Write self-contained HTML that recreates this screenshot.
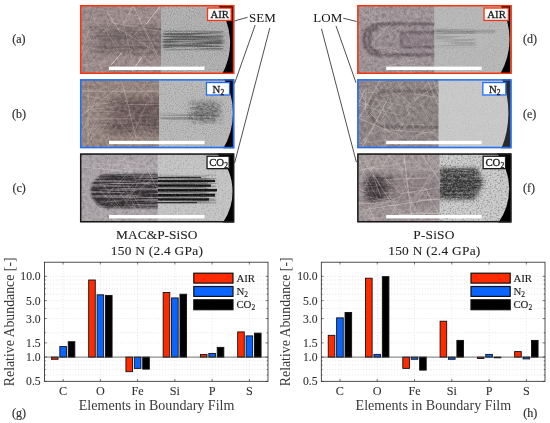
<!DOCTYPE html>
<html><head><meta charset="utf-8"><title>Figure</title>
<style>
html,body{margin:0;padding:0;background:#fff;}
svg{display:block;font-family:"Liberation Serif", serif;}
text{stroke-width:0.1px;}
.tk{font-size:12.2px;fill:#333;stroke:#333;}
.xl{font-size:14px;fill:#3a3a3a;}
.yl{font-size:14.5px;fill:#3a3a3a;}
.lg{font-size:10.8px;fill:#222;stroke:#222;stroke-width:0.12px;}
.tt{font-size:13.4px;fill:#222;stroke:#222;}
.pl{font-size:12px;fill:#333;stroke:#333;stroke-width:0.2px;}
.lb{font-size:10.8px;fill:#222;stroke:#222;stroke-width:0.3px;}
.big{font-size:13px;fill:#111;}
</style></head><body>
<svg width="550" height="423" viewBox="0 0 550 423">
<defs>
<filter id="nf" x="0" y="0" width="100%" height="100%" color-interpolation-filters="sRGB">
<feTurbulence type="fractalNoise" baseFrequency="0.95" numOctaves="2" seed="3" result="n"/>
<feColorMatrix in="n" type="matrix" values="0 0 0 0 0  0 0 0 0 0  0 0 0 0 0  -1.6 0 0 0 0.8" result="d"/>
<feColorMatrix in="n" type="matrix" values="0 0 0 0 1  0 0 0 0 1  0 0 0 0 1  1.6 0 0 0 -0.8" result="l"/>
<feMerge><feMergeNode in="d"/><feMergeNode in="l"/></feMerge>
</filter>
<filter id="nf2" x="0" y="0" width="100%" height="100%" color-interpolation-filters="sRGB">
<feTurbulence type="fractalNoise" baseFrequency="0.95" numOctaves="2" seed="8" result="n"/>
<feColorMatrix in="n" type="matrix" values="0 0 0 0 0  0 0 0 0 0  0 0 0 0 0  -2.4 0 0 0 1.2" result="d"/>
<feColorMatrix in="n" type="matrix" values="0 0 0 0 1  0 0 0 0 1  0 0 0 0 1  2.4 0 0 0 -1.2" result="l"/>
<feMerge><feMergeNode in="d"/><feMergeNode in="l"/></feMerge>
</filter>
<filter id="nc" x="0" y="0" width="100%" height="100%" color-interpolation-filters="sRGB">
<feTurbulence type="fractalNoise" baseFrequency="0.28" numOctaves="3" seed="21" result="n"/>
<feColorMatrix in="n" type="matrix" values="0 0 0 0 0  0 0 0 0 0  0 0 0 0 0  -1.5 0 0 0 0.75" result="d"/>
<feColorMatrix in="n" type="matrix" values="0 0 0 0 1  0 0 0 0 1  0 0 0 0 1  1.5 0 0 0 -0.75" result="l"/>
<feMerge><feMergeNode in="d"/><feMergeNode in="l"/></feMerge>
</filter>
<filter id="nm" x="0" y="0" width="100%" height="100%" color-interpolation-filters="sRGB">
<feTurbulence type="fractalNoise" baseFrequency="0.6" numOctaves="2" seed="17" result="n"/>
<feColorMatrix in="n" type="matrix" values="0 0 0 0 0  0 0 0 0 0  0 0 0 0 0  -2.2 0 0 0 1.1" result="d"/>
<feColorMatrix in="n" type="matrix" values="0 0 0 0 1  0 0 0 0 1  0 0 0 0 1  2.2 0 0 0 -1.1" result="l"/>
<feMerge><feMergeNode in="d"/><feMergeNode in="l"/></feMerge>
</filter>
<filter id="st1" x="-15%" y="-30%" width="130%" height="160%" color-interpolation-filters="sRGB">
<feTurbulence type="fractalNoise" baseFrequency="0.02 0.55" numOctaves="2" seed="5" result="n"/>
<feColorMatrix in="n" type="matrix" values="0 0 0 0 0  0 0 0 0 0  0 0 0 0 0  5 0 0 0 -1.9" result="s"/>
<feGaussianBlur in="SourceAlpha" stdDeviation="1.5" result="m"/>
<feComposite in="s" in2="m" operator="in"/>
</filter>
<filter id="st2" x="-15%" y="-30%" width="130%" height="160%" color-interpolation-filters="sRGB">
<feTurbulence type="fractalNoise" baseFrequency="0.015 0.7" numOctaves="2" seed="9" result="n"/>
<feColorMatrix in="n" type="matrix" values="0 0 0 0 0  0 0 0 0 0  0 0 0 0 0  7 0 0 0 -2.6" result="s"/>
<feGaussianBlur in="SourceAlpha" stdDeviation="1.0" result="m"/>
<feComposite in="s" in2="m" operator="in"/>
</filter>
<filter id="st3" x="-15%" y="-30%" width="130%" height="160%" color-interpolation-filters="sRGB">
<feTurbulence type="fractalNoise" baseFrequency="0.03 0.45" numOctaves="2" seed="14" result="n"/>
<feColorMatrix in="n" type="matrix" values="0 0 0 0 0  0 0 0 0 0  0 0 0 0 0  4 0 0 0 -1.6" result="s"/>
<feGaussianBlur in="SourceAlpha" stdDeviation="2.0" result="m"/>
<feComposite in="s" in2="m" operator="in"/>
</filter>
<filter id="bl1" x="-15%" y="-30%" width="130%" height="160%" color-interpolation-filters="sRGB">
<feTurbulence type="fractalNoise" baseFrequency="0.25 0.4" numOctaves="3" seed="4" result="n"/>
<feColorMatrix in="n" type="matrix" values="0 0 0 0 0  0 0 0 0 0  0 0 0 0 0  4 0 0 0 -1.5" result="s"/>
<feGaussianBlur in="SourceAlpha" stdDeviation="2.5" result="m"/>
<feComposite in="s" in2="m" operator="in"/>
</filter>
<filter id="b1"><feGaussianBlur stdDeviation="1.2"/></filter>
<filter id="b07"><feGaussianBlur stdDeviation="0.7"/></filter>
<filter id="b2"><feGaussianBlur stdDeviation="2.5"/></filter>
<filter id="b4"><feGaussianBlur stdDeviation="4"/></filter>
</defs>
<rect width="550" height="423" fill="#fff"/>

<clipPath id="c0"><rect x="80" y="5" width="154.2" height="69.0"/></clipPath>
<clipPath id="l0"><rect x="80" y="5" width="81.30000000000001" height="69.0"/></clipPath>
<clipPath id="s0"><rect x="161.3" y="5" width="72.89999999999998" height="69.0"/></clipPath>
<rect x="80" y="5" width="154.2" height="69.0" fill="#b0b0b0"/>
<g clip-path="url(#l0)">
<rect x="80" y="5" width="81.30000000000001" height="69.0" fill="#9b8b89"/>
<rect x="98" y="27" width="70" height="26" fill="#4a3a44" opacity="0.3" filter="url(#b4)"/><rect x="90" y="25" width="75" height="30" filter="url(#st3)" opacity="0.13"/><path d="M145.8 24.6L159.8 6.4M110.8 65.2L122 52.6M132 71L142 57" stroke="#f4e8e2" stroke-width="1" opacity="0.7"/>
<rect x="80" y="5" width="154.2" height="69.0" filter="url(#nc)" opacity="0.3"/>
<rect x="80" y="5" width="154.2" height="69.0" filter="url(#nf)" opacity="0.18"/>
<g stroke="#f0e4e0" opacity="0.45" fill="none"><path d="M62.1 68.1L119.7 58.9" stroke-width="0.35" opacity="0.42"/><path d="M129.8 19.6L166.1 50.2" stroke-width="0.35" opacity="0.59"/><path d="M74.2 70.5L89.4 29.2" stroke-width="0.68" opacity="0.96"/><path d="M118.0 -0.9L131.9 58.6" stroke-width="0.58" opacity="0.79"/><path d="M78.6 59.7L111.6 87.2" stroke-width="0.76" opacity="0.51"/><path d="M96.8 59.5L109.4 84.9" stroke-width="0.70" opacity="0.65"/><path d="M75.1 64.7L113.1 21.1" stroke-width="0.56" opacity="0.64"/><path d="M95.6 -0.3L144.0 14.3" stroke-width="0.38" opacity="0.54"/><path d="M60.9 19.8L101.1 17.8" stroke-width="0.43" opacity="0.73"/><path d="M148.5 -14.3L167.1 25.1" stroke-width="0.58" opacity="0.66"/><path d="M65.7 65.0L103.5 65.1" stroke-width="0.30" opacity="0.72"/><path d="M130.3 -0.2L157.5 55.9" stroke-width="0.70" opacity="0.88"/><path d="M126.3 42.5L166.4 2.7" stroke-width="0.44" opacity="0.56"/><path d="M119.7 21.0L169.9 14.5" stroke-width="0.45" opacity="0.82"/><path d="M88.5 7.9L152.2 17.9" stroke-width="0.56" opacity="0.53"/><path d="M114.2 48.5L144.3 74.2" stroke-width="0.55" opacity="0.66"/><path d="M136.1 86.7L159.2 58.1" stroke-width="0.59" opacity="0.59"/><path d="M123.5 23.1L139.1 -5.0" stroke-width="0.77" opacity="0.85"/><path d="M107.3 12.1L120.4 32.7" stroke-width="0.73" opacity="0.98"/><path d="M116.9 27.7L157.5 52.5" stroke-width="0.55" opacity="0.96"/><path d="M104.9 28.7L118.5 50.9" stroke-width="0.46" opacity="0.99"/><path d="M111.5 22.7L175.8 34.1" stroke-width="0.72" opacity="0.72"/><path d="M131.2 31.9L153.6 51.5" stroke-width="0.47" opacity="0.70"/><path d="M93.6 19.7L107.9 37.0" stroke-width="0.58" opacity="0.46"/><path d="M74.7 14.7L91.6 5.4" stroke-width="0.58" opacity="0.74"/><path d="M143.3 55.7L171.5 4.7" stroke-width="0.71" opacity="0.41"/><path d="M126.3 20.1L142.7 2.6" stroke-width="0.53" opacity="0.81"/><path d="M70.6 59.7L115.3 66.9" stroke-width="0.66" opacity="0.59"/><path d="M77.5 22.5L116.3 31.3" stroke-width="0.46" opacity="0.44"/><path d="M130.3 62.6L178.2 81.2" stroke-width="0.43" opacity="0.72"/></g>
</g>
<g clip-path="url(#s0)">
<rect x="161.3" y="5" width="72.89999999999998" height="69.0" fill="#b0b0b0"/>
<rect x="163" y="31.5" width="60" height="18" filter="url(#st1)" opacity="0.42"/><rect x="164" y="33" width="58" height="14" fill="#333" opacity="0.22" filter="url(#b2)"/>
<rect x="80" y="5" width="154.2" height="69.0" filter="url(#nf2)" opacity="0.2"/>
<path d="M236.2 3H216.62A65.8 65.8 0 0 1 221.17 76.0H236.2Z" fill="#000"/>
</g>
<rect x="109" y="66.6" width="95.5" height="3.4" fill="#fff"/>
<rect x="80.7" y="5.7" width="152.79999999999998" height="67.6" fill="none" stroke="#fb340c" stroke-width="1.5"/>
<rect x="207.55" y="8.05" width="23.60" height="12.4" fill="#fff" stroke="#fb340c" stroke-width="1.3"/>
<text x="219.75" y="18.05" text-anchor="middle" class="lb">AIR</text>
<clipPath id="c1"><rect x="80" y="79.2" width="154.2" height="69.0"/></clipPath>
<clipPath id="l1"><rect x="80" y="79.2" width="79.19999999999999" height="69.0"/></clipPath>
<clipPath id="s1"><rect x="159.2" y="79.2" width="75.0" height="69.0"/></clipPath>
<rect x="80" y="79.2" width="154.2" height="69.0" fill="#b8b8b8"/>
<g clip-path="url(#l1)">
<rect x="80" y="79.2" width="79.19999999999999" height="69.0" fill="#96857f"/>
<rect x="110" y="97.2" width="60" height="36" fill="#3c2c32" opacity="0.35" filter="url(#b4)"/><rect x="100" y="99.2" width="62" height="34" filter="url(#st3)" opacity="0.15"/><path d="M88 81.2V145.2M82 91.2H158" stroke="#e6d6d2" stroke-width="0.7" opacity="0.5"/>
<rect x="80" y="79.2" width="154.2" height="69.0" filter="url(#nc)" opacity="0.3"/>
<rect x="80" y="79.2" width="154.2" height="69.0" filter="url(#nf)" opacity="0.18"/>
<g stroke="#f0e4e0" opacity="0.45" fill="none"><path d="M89.0 129.4L106.9 161.8" stroke-width="0.32" opacity="0.69"/><path d="M89.1 118.9L132.7 118.6" stroke-width="0.54" opacity="0.95"/><path d="M127.5 148.6L147.5 101.3" stroke-width="0.47" opacity="0.81"/><path d="M104.1 138.3L134.7 109.8" stroke-width="0.40" opacity="0.97"/><path d="M118.0 120.6L133.7 138.4" stroke-width="0.60" opacity="0.72"/><path d="M82.9 102.4L126.8 105.3" stroke-width="0.55" opacity="0.44"/><path d="M138.1 116.0L165.0 112.4" stroke-width="0.32" opacity="0.55"/><path d="M96.6 138.9L110.6 116.9" stroke-width="0.68" opacity="0.58"/><path d="M65.7 149.1L96.4 114.8" stroke-width="0.50" opacity="0.45"/><path d="M70.6 103.0L100.4 154.4" stroke-width="0.55" opacity="0.82"/><path d="M140.5 84.6L174.8 82.5" stroke-width="0.78" opacity="0.40"/><path d="M136.8 85.6L155.5 101.8" stroke-width="0.78" opacity="0.66"/><path d="M77.1 144.5L96.1 97.5" stroke-width="0.66" opacity="0.71"/><path d="M75.3 159.1L99.0 127.5" stroke-width="0.35" opacity="0.84"/><path d="M122.7 104.9L149.5 137.9" stroke-width="0.46" opacity="0.63"/><path d="M109.6 100.0L132.7 85.5" stroke-width="0.45" opacity="0.73"/><path d="M128.3 104.4L186.4 104.9" stroke-width="0.45" opacity="0.91"/><path d="M71.2 123.5L119.8 86.0" stroke-width="0.64" opacity="0.96"/><path d="M128.5 147.6L146.9 124.1" stroke-width="0.33" opacity="0.84"/><path d="M86.4 109.9L116.5 106.4" stroke-width="0.74" opacity="0.65"/><path d="M100.5 130.2L116.8 161.4" stroke-width="0.69" opacity="0.88"/><path d="M107.9 116.8L113.5 132.0" stroke-width="0.40" opacity="0.56"/><path d="M56.3 109.8L118.8 112.0" stroke-width="0.63" opacity="0.59"/><path d="M69.2 119.0L96.9 166.3" stroke-width="0.60" opacity="0.59"/><path d="M84.4 107.8L122.5 100.0" stroke-width="0.38" opacity="0.94"/><path d="M64.3 135.5L119.2 123.3" stroke-width="0.35" opacity="0.43"/><path d="M120.2 120.2L127.8 139.8" stroke-width="0.66" opacity="0.45"/><path d="M87.1 139.3L94.7 122.6" stroke-width="0.74" opacity="0.75"/><path d="M121.1 77.4L136.2 138.3" stroke-width="0.67" opacity="0.87"/><path d="M65.6 92.3L124.1 102.8" stroke-width="0.58" opacity="0.63"/></g>
</g>
<g clip-path="url(#s1)">
<rect x="159.2" y="79.2" width="75.0" height="69.0" fill="#b8b8b8"/>
<ellipse cx="206" cy="111.2" rx="14" ry="10" fill="#222" opacity="0.3" filter="url(#b4)"/><rect x="188" y="101.2" width="34" height="22" filter="url(#bl1)" opacity="0.22"/><rect x="160" y="114.2" width="55" height="6" filter="url(#st1)" opacity="0.25"/>
<rect x="80" y="79.2" width="154.2" height="69.0" filter="url(#nf2)" opacity="0.2"/>
<path d="M236.2 77.2H223.10A69.7 69.7 0 0 1 222.24 150.2H236.2Z" fill="#000"/>
</g>
<rect x="109" y="140.8" width="95.5" height="3.4" fill="#fff"/>
<rect x="80.7" y="79.9" width="152.79999999999998" height="67.6" fill="none" stroke="#1f6ffb" stroke-width="1.5"/>
<rect x="206.45" y="82.55" width="23.10" height="12.4" fill="#fff" stroke="#1f6ffb" stroke-width="1.3"/>
<text x="218.40" y="92.55" text-anchor="middle" class="lb">N<tspan dy="2" font-size="7.5">2</tspan></text>
<clipPath id="c2"><rect x="80" y="153.4" width="154.2" height="69.0"/></clipPath>
<clipPath id="l2"><rect x="80" y="153.4" width="77.80000000000001" height="69.0"/></clipPath>
<clipPath id="s2"><rect x="157.8" y="153.4" width="76.39999999999998" height="69.0"/></clipPath>
<rect x="80" y="153.4" width="154.2" height="69.0" fill="#c4c4c4"/>
<g clip-path="url(#l2)">
<rect x="80" y="153.4" width="77.80000000000001" height="69.0" fill="#aaa3a8"/>
<path d="M160 173.9H108a17 17 0 0 0 0 34H160Z" fill="#2c2228" opacity="0.42" filter="url(#b1)"/><path d="M160 173.9H108a17 17 0 0 0 0 34H160Z" filter="url(#st2)" opacity="0.55"/><path d="M110 183.4H158M100 189.4H158M110 197.4H158" stroke="#b9a8b0" stroke-width="0.9" opacity="0.5"/>
<rect x="80" y="153.4" width="154.2" height="69.0" filter="url(#nc)" opacity="0.3"/>
<rect x="80" y="153.4" width="154.2" height="69.0" filter="url(#nf)" opacity="0.18"/>
<g stroke="#f0e4e0" opacity="0.5" fill="none"><path d="M133.0 132.3L177.2 176.1" stroke-width="0.80" opacity="0.54"/><path d="M77.2 206.4L135.4 198.1" stroke-width="0.41" opacity="0.95"/><path d="M100.7 173.6L138.9 165.1" stroke-width="0.46" opacity="0.82"/><path d="M106.6 199.4L123.5 214.6" stroke-width="0.39" opacity="0.96"/><path d="M124.9 219.1L142.5 186.9" stroke-width="0.34" opacity="0.84"/><path d="M141.4 183.2L162.0 164.4" stroke-width="0.46" opacity="0.89"/><path d="M84.7 220.4L124.8 211.3" stroke-width="0.36" opacity="0.70"/><path d="M84.5 233.8L134.1 188.9" stroke-width="0.38" opacity="0.70"/><path d="M103.9 217.8L131.0 223.8" stroke-width="0.68" opacity="0.67"/><path d="M127.7 185.4L144.5 215.0" stroke-width="0.61" opacity="0.82"/><path d="M103.8 197.7L148.9 152.1" stroke-width="0.76" opacity="0.77"/><path d="M135.6 132.0L165.8 175.1" stroke-width="0.46" opacity="0.59"/><path d="M109.6 231.8L144.5 171.9" stroke-width="0.66" opacity="0.64"/><path d="M126.3 204.5L169.8 220.7" stroke-width="0.36" opacity="0.96"/><path d="M113.9 139.8L136.5 180.8" stroke-width="0.58" opacity="0.85"/><path d="M85.1 167.3L132.2 171.7" stroke-width="0.72" opacity="0.81"/><path d="M140.8 182.5L162.3 187.8" stroke-width="0.44" opacity="1.00"/><path d="M72.2 191.6L97.2 241.7" stroke-width="0.34" opacity="0.93"/><path d="M95.6 163.4L133.5 165.7" stroke-width="0.51" opacity="0.93"/><path d="M97.7 176.9L120.3 208.4" stroke-width="0.51" opacity="0.95"/><path d="M149.6 164.9L162.4 176.0" stroke-width="0.59" opacity="0.40"/><path d="M111.0 204.3L154.5 163.9" stroke-width="0.50" opacity="0.78"/><path d="M137.2 143.1L140.9 186.6" stroke-width="0.41" opacity="0.53"/><path d="M126.9 195.9L151.5 180.7" stroke-width="0.77" opacity="0.56"/><path d="M100.7 176.4L123.7 172.3" stroke-width="0.63" opacity="0.54"/><path d="M78.8 223.4L104.5 214.6" stroke-width="0.44" opacity="0.64"/><path d="M122.6 183.7L137.8 212.7" stroke-width="0.49" opacity="0.99"/><path d="M92.7 183.2L126.1 215.4" stroke-width="0.71" opacity="0.51"/><path d="M103.6 149.4L138.8 199.6" stroke-width="0.54" opacity="0.62"/><path d="M123.9 193.6L172.3 202.6" stroke-width="0.71" opacity="0.43"/><path d="M123.3 168.6L156.1 168.9" stroke-width="0.51" opacity="0.73"/><path d="M117.8 189.8L140.0 220.6" stroke-width="0.33" opacity="0.95"/><path d="M97.5 156.3L130.4 167.4" stroke-width="0.40" opacity="0.61"/><path d="M135.8 177.5L151.8 141.8" stroke-width="0.31" opacity="0.40"/><path d="M93.3 198.5L135.3 239.5" stroke-width="0.41" opacity="0.83"/><path d="M146.0 166.2L162.1 199.4" stroke-width="0.77" opacity="0.74"/><path d="M144.8 185.6L164.1 164.8" stroke-width="0.52" opacity="0.85"/><path d="M93.6 218.5L128.2 175.5" stroke-width="0.61" opacity="0.50"/><path d="M132.0 221.6L170.3 215.3" stroke-width="0.37" opacity="0.69"/><path d="M115.2 159.5L153.1 166.1" stroke-width="0.54" opacity="0.76"/></g>
</g>
<g clip-path="url(#s2)">
<rect x="157.8" y="153.4" width="76.39999999999998" height="69.0" fill="#c4c4c4"/>
<rect x="158" y="177.4" width="50" height="25" fill="#222" opacity="0.22" filter="url(#b1)"/><rect x="157" y="176.9" width="44" height="1.0" fill="#0c0c0c" opacity="0.9"/><rect x="157" y="179.9" width="58" height="2.2" fill="#0c0c0c" opacity="0.9"/><rect x="157" y="184.4" width="54" height="2.4" fill="#0c0c0c" opacity="0.9"/><rect x="157" y="188.9" width="60" height="2.6" fill="#0c0c0c" opacity="0.9"/><rect x="157" y="193.9" width="58" height="2.6" fill="#0c0c0c" opacity="0.9"/><rect x="157" y="198.4" width="52" height="2.2" fill="#0c0c0c" opacity="0.9"/><rect x="157" y="202.2" width="40" height="1.0" fill="#0c0c0c" opacity="0.9"/><rect x="158" y="175.4" width="58" height="28" filter="url(#st2)" opacity="0.25"/>
<rect x="80" y="153.4" width="154.2" height="69.0" filter="url(#nm)" opacity="0.18"/>
<path d="M236.2 151.4H214.74A54.4 54.4 0 0 1 221.67 224.4H236.2Z" fill="#000"/>
</g>
<rect x="109" y="215.0" width="95.5" height="3.4" fill="#fff"/>
<rect x="80.7" y="154.1" width="152.79999999999998" height="67.6" fill="none" stroke="#1a1a1a" stroke-width="1.5"/>
<rect x="207.05" y="156.25" width="22.10" height="12.4" fill="#fff" stroke="#1a1a1a" stroke-width="1.3"/>
<text x="218.50" y="166.25" text-anchor="middle" class="lb">CO<tspan dy="2" font-size="7.5">2</tspan></text>
<clipPath id="c3"><rect x="357.2" y="5" width="154.2" height="69.0"/></clipPath>
<clipPath id="l3"><rect x="357.2" y="5" width="77.30000000000001" height="69.0"/></clipPath>
<clipPath id="s3"><rect x="434.5" y="5" width="76.89999999999998" height="69.0"/></clipPath>
<rect x="357.2" y="5" width="154.2" height="69.0" fill="#b8b8b8"/>
<g clip-path="url(#l3)">
<rect x="357.2" y="5" width="77.30000000000001" height="69.0" fill="#9e9397"/>
<path d="M437.2 24H379.2a15.5 15.5 0 0 0 0 31H437.2" fill="#54424c" fill-opacity="0.15" stroke="#3a2a34" stroke-width="2.6" opacity="0.62" filter="url(#b1)"/><path d="M437.2 32H401.2v15H437.2" fill="#54424c" fill-opacity="0.3" stroke="#3e2e38" stroke-width="1.8" opacity="0.55" filter="url(#b1)"/><path d="M379.2 26a14 14 0 0 0 0 27" fill="none" stroke="#2e2028" stroke-width="3" opacity="0.45" filter="url(#b1)"/>
<rect x="357.2" y="5" width="154.2" height="69.0" filter="url(#nc)" opacity="0.3"/>
<rect x="357.2" y="5" width="154.2" height="69.0" filter="url(#nf)" opacity="0.18"/>
<g stroke="#f0e4e0" opacity="0.4" fill="none"><path d="M402.4 19.5L460.2 9.9" stroke-width="0.34" opacity="0.56"/><path d="M351.0 93.5L371.1 51.2" stroke-width="0.31" opacity="0.56"/><path d="M379.2 42.0L400.4 -7.1" stroke-width="0.61" opacity="0.56"/><path d="M405.4 24.5L456.9 28.6" stroke-width="0.39" opacity="0.43"/><path d="M389.2 -5.9L407.4 20.3" stroke-width="0.49" opacity="0.75"/><path d="M374.3 54.2L386.1 38.0" stroke-width="0.52" opacity="0.46"/><path d="M416.9 41.1L418.3 -23.1" stroke-width="0.39" opacity="0.73"/><path d="M366.4 9.4L402.0 45.9" stroke-width="0.35" opacity="0.52"/><path d="M348.9 -0.4L384.3 30.7" stroke-width="0.80" opacity="0.85"/><path d="M360.7 50.2L426.8 60.1" stroke-width="0.31" opacity="0.70"/><path d="M402.2 37.2L410.3 19.8" stroke-width="0.40" opacity="0.81"/><path d="M416.8 24.4L451.2 59.3" stroke-width="0.50" opacity="0.47"/><path d="M418.5 31.6L436.3 50.8" stroke-width="0.54" opacity="0.63"/><path d="M396.7 82.0L433.7 27.1" stroke-width="0.58" opacity="0.51"/><path d="M426.1 41.1L436.9 12.9" stroke-width="0.68" opacity="0.53"/><path d="M388.7 37.4L451.2 35.1" stroke-width="0.71" opacity="0.41"/><path d="M371.7 46.1L401.4 52.3" stroke-width="0.72" opacity="0.56"/><path d="M362.1 10.5L392.4 72.0" stroke-width="0.40" opacity="0.64"/><path d="M407.6 85.5L442.0 29.6" stroke-width="0.47" opacity="0.43"/><path d="M369.9 56.9L425.6 70.4" stroke-width="0.31" opacity="0.97"/><path d="M377.8 68.2L442.7 53.2" stroke-width="0.75" opacity="0.65"/><path d="M394.8 28.5L415.8 83.6" stroke-width="0.63" opacity="0.59"/><path d="M368.4 22.6L389.5 20.3" stroke-width="0.75" opacity="0.89"/><path d="M414.4 -1.6L442.1 33.6" stroke-width="0.74" opacity="0.98"/><path d="M370.2 -15.4L402.2 31.0" stroke-width="0.58" opacity="0.67"/><path d="M372.4 30.0L381.8 13.7" stroke-width="0.47" opacity="0.63"/><path d="M413.4 35.6L442.4 54.8" stroke-width="0.44" opacity="0.41"/><path d="M339.0 19.3L388.1 12.0" stroke-width="0.31" opacity="0.95"/><path d="M385.1 35.6L419.8 16.2" stroke-width="0.66" opacity="0.87"/><path d="M400.5 25.2L417.1 47.0" stroke-width="0.56" opacity="0.81"/><path d="M367.1 49.2L435.9 43.9" stroke-width="0.36" opacity="0.85"/><path d="M375.8 38.0L392.4 23.6" stroke-width="0.64" opacity="0.83"/><path d="M374.3 48.9L376.2 -20.9" stroke-width="0.47" opacity="0.69"/><path d="M352.3 66.3L387.4 26.2" stroke-width="0.63" opacity="0.81"/><path d="M382.0 45.2L415.6 9.8" stroke-width="0.48" opacity="0.41"/><path d="M390.7 83.3L405.6 59.9" stroke-width="0.70" opacity="0.64"/><path d="M341.1 54.6L379.9 2.8" stroke-width="0.64" opacity="0.72"/><path d="M346.5 91.7L392.3 49.8" stroke-width="0.49" opacity="0.57"/><path d="M393.9 47.6L415.3 71.9" stroke-width="0.72" opacity="0.67"/><path d="M354.2 4.2L385.8 8.5" stroke-width="0.63" opacity="0.84"/></g>
</g>
<g clip-path="url(#s3)">
<rect x="434.5" y="5" width="76.89999999999998" height="69.0" fill="#b8b8b8"/>
<rect x="435.2" y="30" width="60" height="3" fill="#444" opacity="0.3" filter="url(#b1)"/><rect x="435.2" y="29" width="40" height="18" filter="url(#st1)" opacity="0.12"/>
<rect x="357.2" y="5" width="154.2" height="69.0" filter="url(#nf)" opacity="0.18"/>
<path d="M513.4 3H499.25A69.4 69.4 0 0 1 499.00 76.0H513.4Z" fill="#000"/>
</g>
<rect x="386.2" y="66.6" width="95.5" height="3.4" fill="#fff"/>
<rect x="357.9" y="5.7" width="152.79999999999998" height="67.6" fill="none" stroke="#fb340c" stroke-width="1.5"/>
<rect x="484.05" y="8.05" width="24.30" height="12.4" fill="#fff" stroke="#fb340c" stroke-width="1.3"/>
<text x="496.60" y="18.05" text-anchor="middle" class="lb">AIR</text>
<clipPath id="c4"><rect x="357.2" y="79.2" width="154.2" height="69.0"/></clipPath>
<clipPath id="l4"><rect x="357.2" y="79.2" width="81.5" height="69.0"/></clipPath>
<clipPath id="s4"><rect x="438.7" y="79.2" width="72.69999999999999" height="69.0"/></clipPath>
<rect x="357.2" y="79.2" width="154.2" height="69.0" fill="#c9c9c9"/>
<g clip-path="url(#l4)">
<rect x="357.2" y="79.2" width="81.5" height="69.0" fill="#8f8485"/>
<path d="M439.2 91.2H387.2a16 16 0 0 0 0 36H439.2" fill="#4a3a40" fill-opacity="0.15" stroke="#32262c" stroke-width="2.2" opacity="0.4" filter="url(#b1)"/>
<rect x="357.2" y="79.2" width="154.2" height="69.0" filter="url(#nc)" opacity="0.3"/>
<rect x="357.2" y="79.2" width="154.2" height="69.0" filter="url(#nf)" opacity="0.18"/>
<g stroke="#f0e4e0" opacity="0.55" fill="none"><path d="M394.8 106.8L408.9 99.3" stroke-width="0.32" opacity="0.91"/><path d="M399.0 118.4L421.7 150.8" stroke-width="0.39" opacity="0.66"/><path d="M369.6 112.3L411.3 155.4" stroke-width="0.78" opacity="0.68"/><path d="M355.5 124.5L382.3 76.2" stroke-width="0.74" opacity="0.91"/><path d="M359.9 118.9L397.5 134.5" stroke-width="0.77" opacity="0.80"/><path d="M374.1 115.3L392.7 163.8" stroke-width="0.31" opacity="0.85"/><path d="M373.4 129.8L406.0 85.7" stroke-width="0.68" opacity="0.58"/><path d="M347.8 97.2L367.8 147.8" stroke-width="0.48" opacity="0.44"/><path d="M402.0 69.3L431.5 124.6" stroke-width="0.40" opacity="0.78"/><path d="M412.6 93.8L444.6 98.2" stroke-width="0.64" opacity="0.87"/><path d="M354.1 96.8L369.4 106.1" stroke-width="0.51" opacity="0.87"/><path d="M352.7 116.6L366.1 86.6" stroke-width="0.77" opacity="0.95"/><path d="M381.4 96.6L405.2 92.5" stroke-width="0.32" opacity="0.78"/><path d="M347.7 118.4L375.3 115.7" stroke-width="0.41" opacity="0.51"/><path d="M419.1 74.7L434.7 106.4" stroke-width="0.71" opacity="0.54"/><path d="M362.3 147.7L387.9 98.6" stroke-width="0.68" opacity="0.99"/><path d="M359.3 89.2L366.9 104.7" stroke-width="0.80" opacity="0.90"/><path d="M391.0 130.1L450.2 134.2" stroke-width="0.67" opacity="0.62"/><path d="M395.0 89.6L426.1 119.4" stroke-width="0.52" opacity="0.59"/><path d="M365.6 118.8L383.4 99.8" stroke-width="0.77" opacity="0.67"/><path d="M369.6 88.9L402.9 139.5" stroke-width="0.66" opacity="0.55"/><path d="M399.0 84.9L417.7 138.9" stroke-width="0.31" opacity="0.95"/><path d="M399.1 130.1L409.7 111.8" stroke-width="0.61" opacity="0.58"/><path d="M358.4 145.4L384.0 121.2" stroke-width="0.38" opacity="0.43"/><path d="M373.5 83.7L406.7 131.6" stroke-width="0.60" opacity="0.80"/><path d="M371.7 98.8L394.1 73.8" stroke-width="0.44" opacity="0.85"/><path d="M396.6 96.7L430.1 140.2" stroke-width="0.40" opacity="0.60"/><path d="M381.6 128.5L391.5 140.1" stroke-width="0.77" opacity="0.62"/><path d="M372.5 74.7L424.1 119.1" stroke-width="0.36" opacity="0.97"/><path d="M404.9 106.8L440.9 82.6" stroke-width="0.66" opacity="0.70"/><path d="M414.3 99.8L416.9 71.2" stroke-width="0.71" opacity="0.42"/><path d="M423.2 131.9L442.8 110.2" stroke-width="0.46" opacity="0.41"/><path d="M335.8 134.7L392.7 105.1" stroke-width="0.42" opacity="0.49"/><path d="M355.7 80.4L385.4 81.4" stroke-width="0.46" opacity="0.61"/><path d="M357.2 137.2L412.6 157.5" stroke-width="0.67" opacity="0.50"/><path d="M396.7 125.4L423.2 160.0" stroke-width="0.66" opacity="0.49"/><path d="M353.3 99.1L390.6 117.1" stroke-width="0.64" opacity="0.63"/><path d="M357.0 96.0L417.1 108.4" stroke-width="0.58" opacity="0.67"/><path d="M408.3 112.1L457.9 155.0" stroke-width="0.52" opacity="0.78"/><path d="M390.8 90.1L399.2 103.9" stroke-width="0.69" opacity="0.43"/><path d="M418.9 59.8L439.1 107.5" stroke-width="0.76" opacity="0.80"/><path d="M335.2 147.5L386.2 139.8" stroke-width="0.62" opacity="0.58"/><path d="M417.6 86.7L454.5 77.9" stroke-width="0.32" opacity="0.90"/><path d="M361.7 93.2L377.4 92.3" stroke-width="0.56" opacity="0.82"/><path d="M399.2 124.0L463.5 126.1" stroke-width="0.40" opacity="0.95"/><path d="M392.4 141.4L409.8 121.3" stroke-width="0.33" opacity="0.72"/><path d="M385.8 92.6L416.8 73.5" stroke-width="0.34" opacity="0.95"/><path d="M415.1 135.4L447.6 127.4" stroke-width="0.73" opacity="0.61"/><path d="M422.4 132.8L446.7 159.0" stroke-width="0.33" opacity="0.70"/><path d="M398.1 132.7L406.9 109.7" stroke-width="0.43" opacity="0.58"/><path d="M431.8 123.6L437.8 137.8" stroke-width="0.38" opacity="0.62"/><path d="M361.4 123.5L376.6 97.4" stroke-width="0.34" opacity="0.77"/><path d="M381.4 57.9L425.3 111.8" stroke-width="0.47" opacity="0.48"/><path d="M365.2 110.6L366.2 88.0" stroke-width="0.78" opacity="0.88"/><path d="M393.7 74.6L403.3 91.6" stroke-width="0.64" opacity="0.57"/><path d="M352.1 134.4L364.8 146.4" stroke-width="0.39" opacity="0.53"/><path d="M372.3 111.7L403.6 138.6" stroke-width="0.53" opacity="0.50"/><path d="M355.4 95.5L385.9 127.2" stroke-width="0.47" opacity="0.59"/><path d="M363.0 104.7L399.3 108.8" stroke-width="0.50" opacity="0.53"/><path d="M419.5 100.5L430.1 118.0" stroke-width="0.31" opacity="0.98"/><path d="M407.8 116.1L420.1 91.3" stroke-width="0.40" opacity="0.86"/><path d="M427.0 105.7L439.4 116.5" stroke-width="0.46" opacity="0.80"/><path d="M383.3 104.9L385.8 148.8" stroke-width="0.74" opacity="0.64"/><path d="M361.4 143.1L378.2 120.4" stroke-width="0.52" opacity="1.00"/><path d="M337.6 100.8L400.3 114.9" stroke-width="0.69" opacity="0.57"/><path d="M391.6 91.8L399.2 110.3" stroke-width="0.39" opacity="0.66"/><path d="M391.9 135.8L429.0 136.5" stroke-width="0.34" opacity="0.40"/><path d="M429.1 70.4L443.5 106.8" stroke-width="0.70" opacity="0.81"/><path d="M372.2 51.5L396.1 116.3" stroke-width="0.37" opacity="0.42"/><path d="M384.6 139.7L416.9 141.4" stroke-width="0.35" opacity="0.60"/></g>
</g>
<g clip-path="url(#s4)">
<rect x="438.7" y="79.2" width="72.69999999999999" height="69.0" fill="#c9c9c9"/>

<rect x="357.2" y="79.2" width="154.2" height="69.0" filter="url(#nf)" opacity="0.12"/>
<path d="M513.4 77.2H501.32A94 94 0 0 1 500.73 150.2H513.4Z" fill="#2a2a2a"/>
</g>
<rect x="386.2" y="140.8" width="95.5" height="3.4" fill="#fff"/>
<rect x="357.9" y="79.9" width="152.79999999999998" height="67.6" fill="none" stroke="#1f6ffb" stroke-width="1.5"/>
<rect x="482.85" y="82.55" width="23.00" height="12.4" fill="#fff" stroke="#1f6ffb" stroke-width="1.3"/>
<text x="494.75" y="92.55" text-anchor="middle" class="lb">N<tspan dy="2" font-size="7.5">2</tspan></text>
<clipPath id="c5"><rect x="357.2" y="153.4" width="154.2" height="69.0"/></clipPath>
<clipPath id="l5"><rect x="357.2" y="153.4" width="82.5" height="69.0"/></clipPath>
<clipPath id="s5"><rect x="439.7" y="153.4" width="71.69999999999999" height="69.0"/></clipPath>
<rect x="357.2" y="153.4" width="154.2" height="69.0" fill="#c8c8c8"/>
<g clip-path="url(#l5)">
<rect x="357.2" y="153.4" width="82.5" height="69.0" fill="#a09597"/>
<rect x="363.2" y="173.4" width="78" height="32" fill="#4a3840" opacity="0.22" filter="url(#b4)"/><ellipse cx="375.2" cy="188.4" rx="10" ry="13" fill="#241a20" opacity="0.6" filter="url(#b2)"/><rect x="363.2" y="175.4" width="30" height="28" filter="url(#st3)" opacity="0.3"/>
<rect x="357.2" y="153.4" width="154.2" height="69.0" filter="url(#nc)" opacity="0.3"/>
<rect x="357.2" y="153.4" width="154.2" height="69.0" filter="url(#nf)" opacity="0.18"/>
<g stroke="#f0e4e0" opacity="0.6" fill="none"><path d="M368.3 235.3L400.4 207.2" stroke-width="0.39" opacity="0.56"/><path d="M394.0 179.1L428.0 178.0" stroke-width="0.70" opacity="0.93"/><path d="M362.4 161.6L416.7 162.3" stroke-width="0.57" opacity="0.40"/><path d="M425.1 187.7L453.8 243.4" stroke-width="0.77" opacity="0.84"/><path d="M384.7 170.2L453.9 171.9" stroke-width="0.34" opacity="0.54"/><path d="M364.8 187.9L383.2 142.1" stroke-width="0.47" opacity="0.50"/><path d="M370.2 208.8L437.2 198.5" stroke-width="0.69" opacity="0.95"/><path d="M346.2 192.2L398.1 202.9" stroke-width="0.78" opacity="0.44"/><path d="M330.0 205.4L390.0 202.7" stroke-width="0.79" opacity="0.48"/><path d="M372.3 165.2L416.6 156.4" stroke-width="0.32" opacity="0.50"/><path d="M346.8 160.8L380.7 153.5" stroke-width="0.36" opacity="0.77"/><path d="M357.0 181.7L426.2 182.8" stroke-width="0.38" opacity="0.42"/><path d="M407.1 222.6L425.4 187.5" stroke-width="0.55" opacity="0.72"/><path d="M349.5 183.8L368.2 193.4" stroke-width="0.55" opacity="0.84"/><path d="M408.5 210.2L442.6 153.9" stroke-width="0.44" opacity="0.48"/><path d="M352.8 231.4L374.9 200.2" stroke-width="0.60" opacity="0.71"/><path d="M403.1 131.0L450.1 176.4" stroke-width="0.68" opacity="0.70"/><path d="M349.1 173.3L379.3 165.5" stroke-width="0.73" opacity="0.64"/><path d="M357.8 213.0L400.5 196.6" stroke-width="0.66" opacity="0.84"/><path d="M357.3 169.9L410.9 161.7" stroke-width="0.71" opacity="0.44"/><path d="M390.0 217.3L412.3 172.7" stroke-width="0.66" opacity="0.51"/><path d="M379.8 204.2L405.5 179.8" stroke-width="0.32" opacity="0.89"/><path d="M389.9 191.9L458.3 194.3" stroke-width="0.35" opacity="0.57"/><path d="M370.5 194.1L392.1 207.2" stroke-width="0.38" opacity="0.65"/><path d="M370.1 184.3L421.6 187.8" stroke-width="0.32" opacity="0.54"/><path d="M408.2 166.8L459.1 174.6" stroke-width="0.36" opacity="0.58"/><path d="M417.9 199.0L430.8 173.5" stroke-width="0.60" opacity="0.47"/><path d="M359.8 187.6L381.1 185.8" stroke-width="0.69" opacity="0.49"/><path d="M399.2 210.0L411.5 199.5" stroke-width="0.62" opacity="0.52"/><path d="M412.3 141.5L442.0 183.8" stroke-width="0.77" opacity="0.84"/><path d="M398.9 214.4L451.0 213.0" stroke-width="0.77" opacity="0.88"/><path d="M355.6 202.2L392.9 240.3" stroke-width="0.48" opacity="0.74"/><path d="M400.9 193.7L444.1 186.8" stroke-width="0.75" opacity="0.77"/><path d="M388.8 194.0L402.6 217.4" stroke-width="0.45" opacity="0.91"/><path d="M401.6 190.4L469.4 204.1" stroke-width="0.68" opacity="0.43"/><path d="M371.7 168.3L406.4 169.2" stroke-width="0.71" opacity="0.64"/><path d="M403.0 183.2L435.3 154.0" stroke-width="0.47" opacity="0.58"/><path d="M375.3 202.9L433.2 198.8" stroke-width="0.30" opacity="0.63"/><path d="M354.0 142.0L369.7 193.7" stroke-width="0.56" opacity="0.60"/><path d="M364.1 161.3L400.6 216.7" stroke-width="0.70" opacity="0.77"/><path d="M328.7 200.6L398.1 205.8" stroke-width="0.64" opacity="0.79"/><path d="M417.0 128.3L441.4 188.9" stroke-width="0.59" opacity="0.62"/><path d="M414.8 226.2L452.6 197.7" stroke-width="0.34" opacity="0.60"/><path d="M372.7 174.9L380.6 195.9" stroke-width="0.64" opacity="0.98"/><path d="M369.4 196.2L384.6 209.4" stroke-width="0.51" opacity="0.53"/><path d="M381.6 131.3L384.9 178.2" stroke-width="0.32" opacity="0.65"/><path d="M403.9 182.7L418.7 217.6" stroke-width="0.46" opacity="0.89"/><path d="M415.4 199.2L427.3 186.8" stroke-width="0.50" opacity="0.56"/><path d="M380.9 148.9L404.0 170.1" stroke-width="0.62" opacity="0.99"/><path d="M411.5 156.0L454.8 203.9" stroke-width="0.45" opacity="0.85"/><path d="M392.5 174.5L410.3 202.7" stroke-width="0.32" opacity="0.45"/><path d="M410.2 202.4L440.3 167.6" stroke-width="0.67" opacity="0.61"/><path d="M418.1 214.6L430.3 230.2" stroke-width="0.40" opacity="0.47"/><path d="M364.7 219.1L429.0 212.1" stroke-width="0.43" opacity="0.81"/><path d="M396.1 166.4L431.3 202.4" stroke-width="0.77" opacity="0.43"/><path d="M337.1 196.5L393.4 186.5" stroke-width="0.44" opacity="0.42"/><path d="M403.0 148.4L411.5 215.7" stroke-width="0.76" opacity="0.98"/><path d="M359.1 163.4L388.2 218.2" stroke-width="0.34" opacity="0.99"/><path d="M368.4 205.7L377.3 227.6" stroke-width="0.78" opacity="0.84"/><path d="M413.9 226.8L432.5 205.8" stroke-width="0.78" opacity="0.72"/><path d="M329.9 206.1L394.9 197.7" stroke-width="0.40" opacity="0.66"/><path d="M366.6 122.9L388.9 186.3" stroke-width="0.43" opacity="0.76"/><path d="M382.5 166.3L393.4 148.3" stroke-width="0.65" opacity="0.81"/><path d="M356.7 162.7L420.3 149.5" stroke-width="0.49" opacity="0.68"/><path d="M406.0 221.6L454.3 220.1" stroke-width="0.53" opacity="0.94"/><path d="M359.5 196.8L367.0 181.8" stroke-width="0.33" opacity="0.65"/><path d="M354.6 138.0L380.0 185.9" stroke-width="0.61" opacity="0.73"/><path d="M373.8 166.9L421.3 214.0" stroke-width="0.60" opacity="0.53"/><path d="M343.8 207.7L374.2 153.2" stroke-width="0.58" opacity="0.52"/><path d="M418.4 200.2L446.5 199.2" stroke-width="0.77" opacity="0.90"/></g>
</g>
<g clip-path="url(#s5)">
<rect x="439.7" y="153.4" width="71.69999999999999" height="69.0" fill="#c8c8c8"/>
<path d="M439.2 168.4H475.2L483.2 183.4L475.2 199.4H439.2Z" fill="#1c1c1c" opacity="0.5" filter="url(#b2)"/><path d="M437.2 168.4H477.2L484.2 182.4L473.2 198.4H437.2Z" filter="url(#bl1)" opacity="0.3"/><path d="M437.2 168.4H477.2L484.2 182.4L473.2 198.4H437.2Z" filter="url(#st1)" opacity="0.35"/>
<rect x="357.2" y="153.4" width="154.2" height="69.0" filter="url(#nm)" opacity="0.4"/>
<path d="M513.4 151.4H495.36A58 58 0 0 1 497.14 224.4H513.4Z" fill="#000"/>
</g>
<rect x="386.2" y="215.0" width="95.5" height="3.4" fill="#fff"/>
<rect x="357.9" y="154.1" width="152.79999999999998" height="67.6" fill="none" stroke="#1a1a1a" stroke-width="1.5"/>
<rect x="483.15" y="156.25" width="22.40" height="12.4" fill="#fff" stroke="#1a1a1a" stroke-width="1.3"/>
<text x="494.75" y="166.25" text-anchor="middle" class="lb">CO<tspan dy="2" font-size="7.5">2</tspan></text>
<text x="248.9" y="21.8" textLength="27" lengthAdjust="spacing" class="big">SEM</text>
<path d="M234.5 20.9L247.6 17.3M234.5 83.5L255.2 25M234.6 163L269.8 28" stroke="#222" stroke-width="0.8" fill="none"/>
<text x="313.3" y="21.8" class="big">LOM</text>
<path d="M343.3 18.2L356.7 21.5M336 25.9L356 82.7M321.5 28.8L356.4 162.2" stroke="#222" stroke-width="0.8" fill="none"/>
<text x="12.3" y="43.3" class="pl">(a)</text>
<text x="12" y="117.7" class="pl">(b)</text>
<text x="12.5" y="191.5" class="pl">(c)</text>
<text x="523" y="43.3" class="pl">(d)</text>
<text x="523" y="117.5" class="pl">(e)</text>
<text x="523" y="191.5" class="pl">(f)</text>
<text x="12" y="417.0" class="pl">(g)</text>
<text x="523.3" y="417.0" class="pl">(h)</text>
<text x="116.1" y="239.2" textLength="81.4" lengthAdjust="spacing" class="tt">MAC&amp;P-SiSO</text>
<text x="110.8" y="254.9" textLength="92.1" lengthAdjust="spacing" class="tt">150 N (2.4 GPa)</text>
<text x="413.3" y="239.2" textLength="41" lengthAdjust="spacing" class="tt">P-SiSO</text>
<text x="388.2" y="254.9" textLength="92.1" lengthAdjust="spacing" class="tt">150 N (2.4 GPa)</text>
<path d="M44.5 375.03H268M44.5 369.62H268M44.5 364.93H268M44.5 360.80H268M44.5 342.87H268M44.5 332.78H268M44.5 318.55H268M44.5 308.45H268M44.5 300.62H268M44.5 294.23H268M44.5 288.82H268M44.5 284.13H268M44.5 280.00H268M44.5 276.30H268M63.12 262.2V381.3M100.38 262.2V381.3M137.62 262.2V381.3M174.88 262.2V381.3M212.12 262.2V381.3M249.38 262.2V381.3" stroke="#d9d9d9" stroke-width="0.7" stroke-dasharray="0.9 1.9" fill="none"/>
<rect x="51.43" y="357.10" width="6.6" height="2.17" fill="#ff2a00" stroke="#111" stroke-width="0.9"/>
<rect x="59.83" y="346.57" width="6.6" height="10.53" fill="#0a64ff" stroke="#111" stroke-width="0.9"/>
<rect x="68.23" y="341.72" width="6.6" height="15.38" fill="#000000" stroke="#111" stroke-width="0.9"/>
<rect x="88.67" y="280.00" width="6.6" height="77.10" fill="#ff2a00" stroke="#111" stroke-width="0.9"/>
<rect x="97.08" y="294.82" width="6.6" height="62.28" fill="#0a64ff" stroke="#111" stroke-width="0.9"/>
<rect x="105.48" y="295.42" width="6.6" height="61.68" fill="#000000" stroke="#111" stroke-width="0.9"/>
<rect x="125.92" y="357.10" width="6.6" height="14.58" fill="#ff2a00" stroke="#111" stroke-width="0.9"/>
<rect x="134.32" y="357.10" width="6.6" height="11.28" fill="#0a64ff" stroke="#111" stroke-width="0.9"/>
<rect x="142.72" y="357.10" width="6.6" height="12.02" fill="#000000" stroke="#111" stroke-width="0.9"/>
<rect x="163.17" y="292.51" width="6.6" height="64.59" fill="#ff2a00" stroke="#111" stroke-width="0.9"/>
<rect x="171.57" y="297.92" width="6.6" height="59.18" fill="#0a64ff" stroke="#111" stroke-width="0.9"/>
<rect x="179.97" y="294.23" width="6.6" height="62.87" fill="#000000" stroke="#111" stroke-width="0.9"/>
<rect x="200.42" y="354.50" width="6.6" height="2.60" fill="#ff2a00" stroke="#111" stroke-width="0.9"/>
<rect x="208.82" y="353.44" width="6.6" height="3.66" fill="#0a64ff" stroke="#111" stroke-width="0.9"/>
<rect x="217.22" y="347.36" width="6.6" height="9.74" fill="#000000" stroke="#111" stroke-width="0.9"/>
<rect x="237.67" y="331.91" width="6.6" height="25.19" fill="#ff2a00" stroke="#111" stroke-width="0.9"/>
<rect x="246.07" y="335.89" width="6.6" height="21.21" fill="#0a64ff" stroke="#111" stroke-width="0.9"/>
<rect x="254.47" y="333.13" width="6.6" height="23.97" fill="#000000" stroke="#111" stroke-width="0.9"/>
<path d="M44.5 357.1H268" stroke="#333" stroke-width="0.7"/>
<rect x="44.5" y="262.2" width="223.5" height="119.10000000000002" fill="none" stroke="#222" stroke-width="0.8"/>
<path d="M63.12 381.3v-2.3M63.12 262.2v2.3M100.38 381.3v-2.3M100.38 262.2v2.3M137.62 381.3v-2.3M137.62 262.2v2.3M174.88 381.3v-2.3M174.88 262.2v2.3M212.12 381.3v-2.3M212.12 262.2v2.3M249.38 381.3v-2.3M249.38 262.2v2.3M44.5 381.42h2.3M268 381.42h-2.3M44.5 357.10h2.3M268 357.10h-2.3M44.5 342.87h2.3M268 342.87h-2.3M44.5 318.55h2.3M268 318.55h-2.3M44.5 300.62h2.3M268 300.62h-2.3M44.5 276.30h2.3M268 276.30h-2.3M44.5 375.03h1.2M268 375.03h-1.2M44.5 369.62h1.2M268 369.62h-1.2M44.5 364.93h1.2M268 364.93h-1.2M44.5 360.80h1.2M268 360.80h-1.2M44.5 332.78h1.2M268 332.78h-1.2M44.5 308.45h1.2M268 308.45h-1.2M44.5 294.23h1.2M268 294.23h-1.2M44.5 288.82h1.2M268 288.82h-1.2M44.5 284.13h1.2M268 284.13h-1.2M44.5 280.00h1.2M268 280.00h-1.2" stroke="#222" stroke-width="0.6" fill="none"/>
<text x="26.10" y="385.47" textLength="14.6" lengthAdjust="spacingAndGlyphs" class="tk">0.5</text>
<text x="26.10" y="361.15" textLength="14.6" lengthAdjust="spacingAndGlyphs" class="tk">1.0</text>
<text x="26.10" y="346.92" textLength="14.6" lengthAdjust="spacingAndGlyphs" class="tk">1.5</text>
<text x="26.10" y="322.60" textLength="14.6" lengthAdjust="spacingAndGlyphs" class="tk">3.0</text>
<text x="26.10" y="304.67" textLength="14.6" lengthAdjust="spacingAndGlyphs" class="tk">5.0</text>
<text x="20.30" y="280.35" textLength="20.4" lengthAdjust="spacingAndGlyphs" class="tk">10.0</text>
<text x="63.12" y="395" text-anchor="middle" class="tk">C</text>
<text x="100.38" y="395" text-anchor="middle" class="tk">O</text>
<text x="137.62" y="395" text-anchor="middle" class="tk">Fe</text>
<text x="174.88" y="395" text-anchor="middle" class="tk">Si</text>
<text x="212.12" y="395" text-anchor="middle" class="tk">P</text>
<text x="249.38" y="395" text-anchor="middle" class="tk">S</text>
<text x="78.80" y="409.7" textLength="155.6" lengthAdjust="spacingAndGlyphs" class="xl">Elements in Boundary Film</text>
<text transform="translate(13.7 386.2) rotate(-90)" textLength="128.8" lengthAdjust="spacingAndGlyphs" class="yl">Relative Abundance [-]</text>
<rect x="193.8" y="273.20" width="39.2" height="9.9" fill="#ff2a00" stroke="#111" stroke-width="1.2"/>
<text x="236.4" y="281.70" class="lg">AIR</text>
<rect x="193.8" y="286.50" width="39.2" height="9.9" fill="#0a64ff" stroke="#111" stroke-width="1.2"/>
<text x="236.4" y="295.00" class="lg">N<tspan dy="2" font-size="7.5">2</tspan></text>
<rect x="193.8" y="299.80" width="39.2" height="9.9" fill="#000000" stroke="#111" stroke-width="1.2"/>
<text x="236.4" y="308.30" class="lg">CO<tspan dy="2" font-size="7.5">2</tspan></text>
<path d="M321.3 375.03H545M321.3 369.62H545M321.3 364.93H545M321.3 360.80H545M321.3 342.87H545M321.3 332.78H545M321.3 318.55H545M321.3 308.45H545M321.3 300.62H545M321.3 294.23H545M321.3 288.82H545M321.3 284.13H545M321.3 280.00H545M321.3 276.30H545M339.94 262.2V381.3M377.23 262.2V381.3M414.51 262.2V381.3M451.79 262.2V381.3M489.07 262.2V381.3M526.36 262.2V381.3" stroke="#d9d9d9" stroke-width="0.7" stroke-dasharray="0.9 1.9" fill="none"/>
<rect x="328.24" y="335.32" width="6.6" height="21.78" fill="#ff2a00" stroke="#111" stroke-width="0.9"/>
<rect x="336.64" y="317.85" width="6.6" height="39.25" fill="#0a64ff" stroke="#111" stroke-width="0.9"/>
<rect x="345.04" y="312.44" width="6.6" height="44.66" fill="#000000" stroke="#111" stroke-width="0.9"/>
<rect x="365.53" y="278.21" width="6.6" height="78.89" fill="#ff2a00" stroke="#111" stroke-width="0.9"/>
<rect x="373.93" y="354.40" width="6.6" height="2.70" fill="#0a64ff" stroke="#111" stroke-width="0.9"/>
<rect x="382.32" y="276.65" width="6.6" height="80.45" fill="#000000" stroke="#111" stroke-width="0.9"/>
<rect x="402.81" y="357.10" width="6.6" height="11.28" fill="#ff2a00" stroke="#111" stroke-width="0.9"/>
<rect x="411.21" y="357.10" width="6.6" height="2.17" fill="#0a64ff" stroke="#111" stroke-width="0.9"/>
<rect x="419.61" y="357.10" width="6.6" height="13.02" fill="#000000" stroke="#111" stroke-width="0.9"/>
<rect x="440.09" y="321.22" width="6.6" height="35.88" fill="#ff2a00" stroke="#111" stroke-width="0.9"/>
<rect x="448.49" y="357.10" width="6.6" height="2.17" fill="#0a64ff" stroke="#111" stroke-width="0.9"/>
<rect x="456.89" y="340.39" width="6.6" height="16.71" fill="#000000" stroke="#111" stroke-width="0.9"/>
<rect x="477.38" y="357.10" width="6.6" height="1.43" fill="#ff2a00" stroke="#111" stroke-width="0.9"/>
<rect x="485.77" y="354.40" width="6.6" height="2.70" fill="#0a64ff" stroke="#111" stroke-width="0.9"/>
<rect x="494.17" y="357.10" width="6.6" height="0.71" fill="#000000" stroke="#111" stroke-width="0.9"/>
<rect x="514.66" y="351.59" width="6.6" height="5.51" fill="#ff2a00" stroke="#111" stroke-width="0.9"/>
<rect x="523.06" y="357.10" width="6.6" height="1.80" fill="#0a64ff" stroke="#111" stroke-width="0.9"/>
<rect x="531.46" y="340.39" width="6.6" height="16.71" fill="#000000" stroke="#111" stroke-width="0.9"/>
<path d="M321.3 357.1H545" stroke="#333" stroke-width="0.7"/>
<rect x="321.3" y="262.2" width="223.7" height="119.10000000000002" fill="none" stroke="#222" stroke-width="0.8"/>
<path d="M339.94 381.3v-2.3M339.94 262.2v2.3M377.23 381.3v-2.3M377.23 262.2v2.3M414.51 381.3v-2.3M414.51 262.2v2.3M451.79 381.3v-2.3M451.79 262.2v2.3M489.07 381.3v-2.3M489.07 262.2v2.3M526.36 381.3v-2.3M526.36 262.2v2.3M321.3 381.42h2.3M545 381.42h-2.3M321.3 357.10h2.3M545 357.10h-2.3M321.3 342.87h2.3M545 342.87h-2.3M321.3 318.55h2.3M545 318.55h-2.3M321.3 300.62h2.3M545 300.62h-2.3M321.3 276.30h2.3M545 276.30h-2.3M321.3 375.03h1.2M545 375.03h-1.2M321.3 369.62h1.2M545 369.62h-1.2M321.3 364.93h1.2M545 364.93h-1.2M321.3 360.80h1.2M545 360.80h-1.2M321.3 332.78h1.2M545 332.78h-1.2M321.3 308.45h1.2M545 308.45h-1.2M321.3 294.23h1.2M545 294.23h-1.2M321.3 288.82h1.2M545 288.82h-1.2M321.3 284.13h1.2M545 284.13h-1.2M321.3 280.00h1.2M545 280.00h-1.2" stroke="#222" stroke-width="0.6" fill="none"/>
<text x="303.00" y="385.47" textLength="14.6" lengthAdjust="spacingAndGlyphs" class="tk">0.5</text>
<text x="303.00" y="361.15" textLength="14.6" lengthAdjust="spacingAndGlyphs" class="tk">1.0</text>
<text x="303.00" y="346.92" textLength="14.6" lengthAdjust="spacingAndGlyphs" class="tk">1.5</text>
<text x="303.00" y="322.60" textLength="14.6" lengthAdjust="spacingAndGlyphs" class="tk">3.0</text>
<text x="303.00" y="304.67" textLength="14.6" lengthAdjust="spacingAndGlyphs" class="tk">5.0</text>
<text x="297.20" y="280.35" textLength="20.4" lengthAdjust="spacingAndGlyphs" class="tk">10.0</text>
<text x="339.94" y="395" text-anchor="middle" class="tk">C</text>
<text x="377.23" y="395" text-anchor="middle" class="tk">O</text>
<text x="414.51" y="395" text-anchor="middle" class="tk">Fe</text>
<text x="451.79" y="395" text-anchor="middle" class="tk">Si</text>
<text x="489.07" y="395" text-anchor="middle" class="tk">P</text>
<text x="526.36" y="395" text-anchor="middle" class="tk">S</text>
<text x="355.60" y="409.7" textLength="155.6" lengthAdjust="spacingAndGlyphs" class="xl">Elements in Boundary Film</text>
<text transform="translate(290.4 386.2) rotate(-90)" textLength="128.8" lengthAdjust="spacingAndGlyphs" class="yl">Relative Abundance [-]</text>
<rect x="471" y="273.20" width="39.2" height="9.9" fill="#ff2a00" stroke="#111" stroke-width="1.2"/>
<text x="513.4" y="281.70" class="lg">AIR</text>
<rect x="471" y="286.50" width="39.2" height="9.9" fill="#0a64ff" stroke="#111" stroke-width="1.2"/>
<text x="513.4" y="295.00" class="lg">N<tspan dy="2" font-size="7.5">2</tspan></text>
<rect x="471" y="299.80" width="39.2" height="9.9" fill="#000000" stroke="#111" stroke-width="1.2"/>
<text x="513.4" y="308.30" class="lg">CO<tspan dy="2" font-size="7.5">2</tspan></text>
</svg></body></html>
